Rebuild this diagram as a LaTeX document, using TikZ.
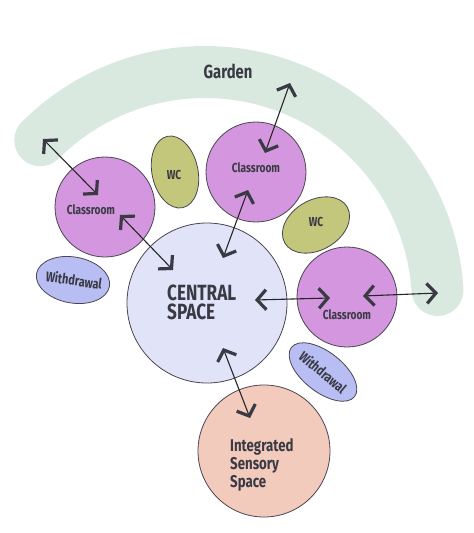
\documentclass[tikz,border=0pt]{standalone}
\usepackage{fontspec}
\newfontfamily\hand{Fira Sans}[FakeStretch=0.78]
\usetikzlibrary{shapes.geometric,arrows.meta}
\definecolor{gardencol}{HTML}{D9E9DF}
\definecolor{classcol}{HTML}{D497DF}
\definecolor{wccol}{HTML}{C3C77B}
\definecolor{centcol}{HTML}{E1E3F9}
\definecolor{withcol}{HTML}{B8BDF3}
\definecolor{isscol}{HTML}{F3CBBD}
\definecolor{ink}{HTML}{3A3A44}
\definecolor{edge}{HTML}{4A4450}
\begin{document}
\begin{tikzpicture}[x=1pt,y=-1pt,
  room/.style={circle,draw=edge,line width=0.8pt,inner sep=0pt},
  blob/.style={ellipse,draw=edge,line width=0.8pt,inner sep=0pt},
  lbl/.style={text=ink,font=\hand\bfseries\fontsize{#1}{#1}\selectfont,inner sep=0pt},
  link/.style={draw=black!85,line width=1.1pt,
    {Straight Barb[length=9pt,width=20pt,line width=3.2pt,color=ink]}-{Straight Barb[length=9pt,width=20pt,line width=3.2pt,color=ink]}}
]
\useasboundingbox (0,0) rectangle (474,533);
% garden band
\draw[gardencol,line width=52pt,line cap=round] plot[domain=225:356.3,samples=60,smooth] ({205+233*cos(\x)},{305+233*sin(\x)});
\node[lbl=19] (garden) at (228,71) {Garden};
% rooms
\node[room,fill=classcol,minimum size=100pt] (cl1) at (105,207) {};
\node[room,fill=classcol,minimum size=100pt] (cl2) at (256,172) {};
\node[room,fill=classcol,minimum size=100pt] (cl3) at (347,297) {};
\node[blob,fill=wccol,minimum width=46pt,minimum height=73pt,rotate=12] (wc1) at (175,172) {};
\node[blob,fill=wccol,minimum width=72pt,minimum height=50pt,rotate=30] (wc2) at (316,225) {};
\node[room,fill=centcol,minimum size=160pt] (cen) at (207,303) {};
\node[blob,fill=withcol,minimum width=74pt,minimum height=46pt,rotate=-10] (wd1) at (73,280) {};
\node[blob,fill=withcol,minimum width=80pt,minimum height=40pt,rotate=-38] (wd2) at (323,372) {};
\node[room,fill=isscol,minimum size=132pt] (iss) at (264,451) {};
% labels
\node[lbl=13] (t1) at (91,210) {Classroom};
\node[lbl=13] (t2) at (256,168) {Classroom};
\node[lbl=13] (t3) at (347,315) {Classroom};
\node[lbl=13] (t4) at (174,175) {WC};
\node[lbl=13] (t5) at (316,222) {WC};
\node[lbl=14,rotate=-8] (t6) at (74,280) {Withdrawal};
\node[lbl=14,rotate=-40] (t7) at (323,372) {Withdrawal};
\node[lbl=22,align=left,anchor=west,font=\hand\bfseries\fontsize{22}{19}\selectfont] (t8) at (167,302) {CENTRAL\\SPACE};
\node[lbl=17,align=left,anchor=west,font=\hand\bfseries\fontsize{17}{18}\selectfont] (t9) at (230,465) {Integrated\\Sensory\\Space};
% arrow tips
\coordinate (a1) at (43,139);  \coordinate (b1) at (98,195);
\coordinate (a2) at (290,83);  \coordinate (b2) at (265,153);
\coordinate (a3) at (120,215); \coordinate (b3) at (173,270);
\coordinate (a4) at (248,190); \coordinate (b4) at (223,258);
\coordinate (a5) at (255,300); \coordinate (b5) at (330,298);
\coordinate (a6) at (363,296); \coordinate (b6) at (438,293);
\coordinate (a7) at (223,348); \coordinate (b7) at (250,418);
\foreach \i in {1,...,7}{\draw[link] (a\i) -- (b\i);}
\end{tikzpicture}
\end{document}
